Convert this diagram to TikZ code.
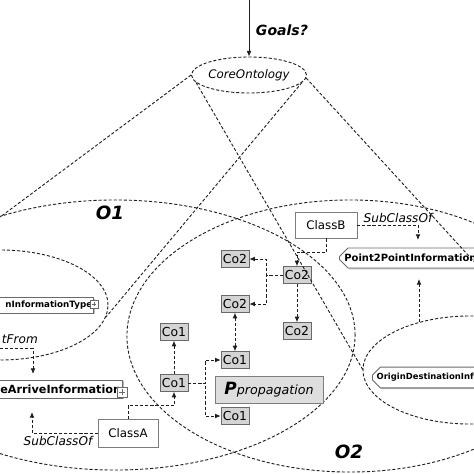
\documentclass[tikz,border=0pt]{standalone}
\usepackage{fontspec}
\setmainfont{DejaVu Sans}
\usepackage{tikz}
\usetikzlibrary{arrows.meta, calc, shapes.geometric, shapes.misc, shadows}
\definecolor{LineDark}{RGB}{30, 30, 30}
\definecolor{CoFill}{RGB}{212, 212, 212}
\definecolor{CoEdge}{RGB}{105, 105, 105}
\definecolor{PropFill}{RGB}{222, 222, 222}
\definecolor{ClassEdge}{RGB}{125, 125, 125}

\tikzset{
  dashline/.style={draw=LineDark, line width=0.65pt, dash pattern=on 2.2pt off 1.4pt},
  relarrow/.style={dashline, -{Latex[length=4pt,width=3.4pt]}},
  bothrel/.style={dashline, {Latex[length=4pt,width=3.4pt]}-{Latex[length=4pt,width=3.4pt]}},
  cobox/.style={draw=CoEdge, fill=CoFill, minimum width=0.7cm, minimum height=0.42cm,
    inner sep=0pt, font=\fontsize{8.8}{10}\selectfont},
  classbox/.style={draw=ClassEdge, fill=white, minimum width=1.55cm, minimum height=0.66cm,
    inner sep=0pt, font=\fontsize{8.4}{10}\selectfont},
  xmlbox/.style={draw=CoEdge, fill=white, line width=0.6pt, inner ysep=0pt, inner xsep=1pt,
    drop shadow={shadow xshift=0.9pt, shadow yshift=-0.9pt, opacity=0.45, fill=black!60}},
  plusbox/.style={draw=CoEdge, fill=white, minimum size=0.24cm, inner sep=0pt,
    path picture={\draw[CoEdge, line width=0.5pt]
      ([yshift=-1.3pt]path picture bounding box.north) -- ([yshift=1.3pt]path picture bounding box.south)
      ([xshift=1.3pt]path picture bounding box.west) -- ([xshift=-1.3pt]path picture bounding box.east);}},
  relname/.style={font=\itshape\fontsize{8.6}{10}\selectfont},
  ontname/.style={font=\bfseries\itshape\fontsize{13}{15}\selectfont}
}

\begin{document}
\begin{tikzpicture}[x=0.025cm, y=-0.025cm]
  \useasboundingbox (0,0) rectangle (474,474);
  \clip (0,0) rectangle (474,474);

  % core ontology and the question above it
  \node[
    ellipse,
    dashline,
    minimum width=2.8cm,
    minimum height=0.9cm,
    inner sep=0pt,
    font=\itshape\fontsize{8.4}{10}\selectfont
  ] (core) at (249,75) {CoreOntology};
  \coordinate (goalsrc) at (249,-5);
  \draw[LineDark, line width=0.6pt, -{Latex[length=4pt,width=3.4pt]}] (goalsrc) -- (core.north);
  \node[anchor=west, font=\bfseries\itshape\fontsize{10}{12}\selectfont] (goals) at (251,30) {Goals?};

  % ontologies
  \draw[dashline] (115,335) ellipse [x radius=6cm, y radius=3.375cm];
  \draw[dashline] (350,336) ellipse [x radius=5.575cm, y radius=3.4cm];
  \draw[dashline] (0,305) ellipse [x radius=2.7cm, y radius=1.375cm];
  \draw[dashline] (470,370) ellipse [x radius=2.675cm, y radius=1.35cm];
  \node[ontname] (onto1) at (110,213) {O1};
  \node[ontname] (onto2) at (349,452) {O2};

  % schema elements
  \node[
    xmlbox,
    anchor=east,
    minimum height=0.45cm,
    text width=3.8cm,
    align=right,
    font=\bfseries\fontsize{8}{9}\selectfont
  ] (arrinfo) at (123,389) {eArriveInformation\hspace*{0.33cm}};
  \node[plusbox] (arrplus) at (122,392) {};
  \node[
    xmlbox,
    anchor=east,
    minimum height=0.38cm,
    text width=2.8cm,
    align=right,
    font=\bfseries\fontsize{6.2}{7}\selectfont
  ] (pitype) at (94,305.5) {nInformationType\hspace*{0.22cm}};
  \node[plusbox, minimum size=0.2cm] (pitplus) at (94,304) {};
  \node[
    xmlbox,
    chamfered rectangle,
    chamfered rectangle xsep=2.5pt,
    anchor=west,
    minimum height=0.5cm,
    text width=5cm,
    align=left,
    font=\bfseries\fontsize{7.1}{8}\selectfont
  ] (p2p) at (339,258) {Point2PointInformation};
  \node[
    xmlbox,
    chamfered rectangle,
    chamfered rectangle xsep=2pt,
    anchor=west,
    minimum height=0.52cm,
    text width=4cm,
    align=left,
    font=\bfseries\fontsize{6}{7}\selectfont
  ] (odinfo) at (372,377.5) {OriginDestinationInfo};

  % classes and concepts
  \node[classbox] (cb) at (326,225) {ClassB};
  \node[classbox, minimum width=1.5cm, minimum height=0.7cm] (ca) at (128,433) {ClassA};
  \node[cobox] (c2a) at (235,259) {Co2};
  \node[cobox] (c2m) at (297,275) {Co2};
  \node[cobox] (c2b) at (235,304) {Co2};
  \node[cobox] (c2c) at (297,331) {Co2};
  \node[cobox] (c1a) at (174,332) {Co1};
  \node[cobox] (c1b) at (235,360) {Co1};
  \node[cobox] (c1m) at (174,383) {Co1};
  \node[cobox] (c1c) at (235,416) {Co1};
  \node[
    draw=ClassEdge,
    fill=PropFill,
    minimum width=2.7cm,
    minimum height=0.68cm,
    inner sep=0pt,
    font=\itshape
  ] (prop) at (269,390) {\bfseries\fontsize{12}{12}\selectfont P\mdseries\fontsize{9}{10}\selectfont propagation};

  % relations
  \draw[relarrow] (c2m.west) -- ++(-16,0) |- (c2a.east);
  \draw[relarrow] (c2m.west) -- ++(-16,0) |- (c2b.east);
  \draw[relarrow] (c2m) -- (c2c);
  \draw[bothrel] (c2b) -- (c1b);
  \draw[relarrow] (c1m.east) -- ++(17,0) |- (c1b.west);
  \draw[relarrow] (c1m.east) -- ++(17,0) |- (c1c.west);
  \draw[relarrow] (c1m) -- (c1a);
  \draw[relarrow] (ca.north) -- ++(0,-13) -| (c1m.south);
  \draw[relarrow] (cb.south) -- ++(0,14) -| (c2m.north);

  \coordinate (p2ptop) at (418,240);
  \coordinate (p2pbot) at (419,279);
  \coordinate (odtop) at (419,322);
  \coordinate (arrbot) at (32,412);
  \coordinate (arrtop) at (33,374);
  \coordinate (fromsrc) at (-5,348);
  \draw[relarrow] (cb.east) -| (p2ptop);
  \node[relname] (subb) at (398,218) {SubClassOf};
  \draw[relarrow] (ca.west) -| (arrbot);
  \node[relname] (suba) at (58,441) {SubClassOf};
  \draw[relarrow] (fromsrc) -| (arrtop);
  \node[relname, anchor=west] (tfrom) at (-3,339) {tFrom};
  \draw[relarrow] (odtop) -- (p2pbot);

  % links to the core ontology
  \coordinate (o1left) at (-20,232);
  \coordinate (pitright) at (106,317);
  \coordinate (odleft) at (363,370);
  \coordinate (p2pright) at (500,290);
  \draw[dashline] (core.west) -- (o1left);
  \draw[dashline] (core.188) -- (odleft);
  \draw[dashline] (core.-8) -- (pitright);
  \draw[dashline] (core.-3) -- (p2pright);
\end{tikzpicture}
\end{document}
